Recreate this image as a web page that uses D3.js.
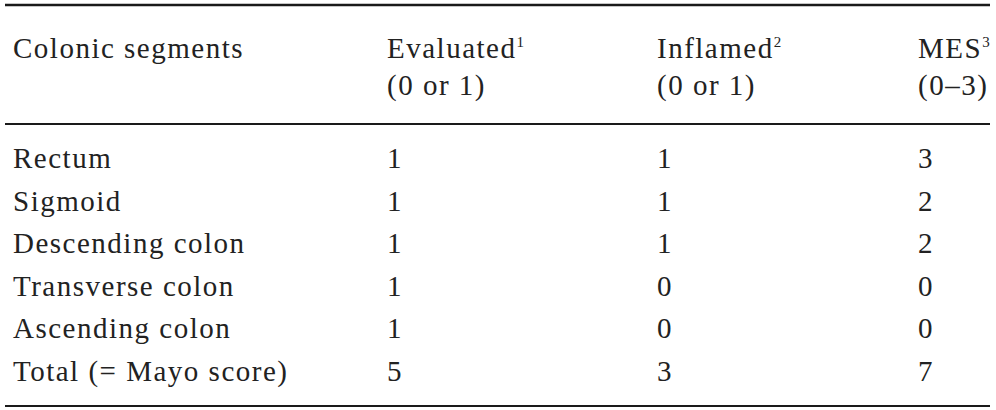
<!DOCTYPE html>
<html><head><meta charset="utf-8">
<script src="https://cdn.jsdelivr.net/npm/d3@7"></script>
<style>body{margin:0;background:#fff}</style></head>
<body><svg id="c" width="996" height="410"></svg>
<script>
const segments = ["Rectum","Sigmoid","Descending colon","Transverse colon","Ascending colon","Total (= Mayo score)"];
const evaluated = [1,1,1,1,1,5];
const inflamed = [1,1,1,0,0,3];
const mes = [3,2,2,0,0,7];
const headers = [["Colonic segments",""],["Evaluated","1","(0 or 1)"],["Inflamed","2","(0 or 1)"],["MES","3","(0–3)"]];
const colX = [13,387,657,918];
const svg = d3.select("#c");
const font = "'Liberation Serif', 'DejaVu Serif', serif";
const fs = 29;
const ls = 1.5;
const y = d3.scalePoint().domain(d3.range(segments.length)).range([168,381]);
const rule=(yy,w)=>svg.append("rect").attr("x",5).attr("width",985).attr("y",yy-w/2).attr("height",w).attr("fill","#1a1a1a");
rule(5,2.5); rule(124,2); rule(406,2);
headers.forEach((h,i)=>{
  const t=svg.append("text").attr("x",colX[i]).attr("y",58).attr("font-family",font).attr("font-size",fs).attr("letter-spacing",ls).attr("fill","#222");
  t.append("tspan").text(h[0]);
  if(h[1]) t.append("tspan").attr("font-size",15).attr("dy",-11).attr("letter-spacing",0).text(h[1]);
  if(h[2]) svg.append("text").attr("x",colX[i]).attr("y",95).attr("font-family",font).attr("font-size",fs).attr("letter-spacing",ls).attr("fill","#222").text(h[2]);
});
const cols=[segments,evaluated,inflamed,mes];
cols.forEach((c,i)=>{
  svg.selectAll(null).data(c).enter().append("text")
    .attr("x",colX[i]).attr("y",(d,j)=>y(j))
    .attr("font-family",font).attr("font-size",fs).attr("letter-spacing",ls).attr("fill","#222").text(d=>d);
});
</script></body></html>
